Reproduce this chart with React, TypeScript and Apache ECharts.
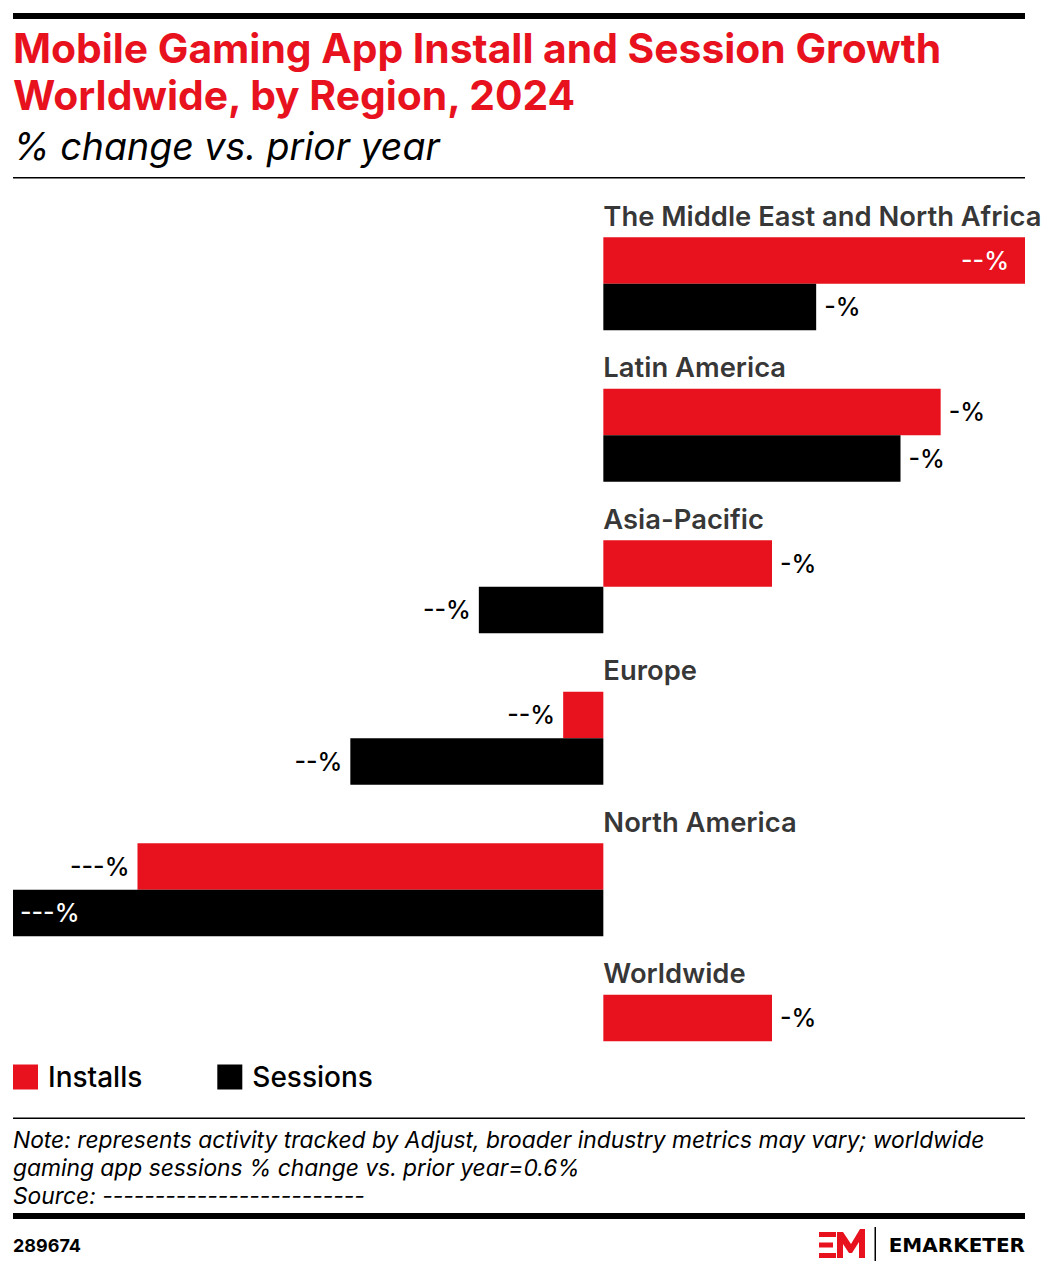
import React, { useEffect, useRef } from "react";
import * as echarts from "echarts";

const categories = [
  "The Middle East and North Africa",
  "Latin America",
  "Asia-Pacific",
  "Europe",
  "North America",
  "Worldwide",
];
const installs = [10.5, 8.4, 4.2, -1.0, -11.6, 4.2];
const sessions: (number | null)[] = [5.3, 7.4, -3.1, -6.3, -14.7, null];
const installLabels = ["--%", "-%", "-%", "--%", "---%", "-%"];
const sessionLabels = ["-%", "-%", "--%", "--%", "---%", ""];
const seriesNames = ["Installs", "Sessions"];

const RED = "#e8121e";
const FONT = "Inter, 'Noto Sans', sans-serif";

const allVals = [...installs, ...(sessions.filter((v) => v !== null) as number[])];
const vMax = Math.max(...allVals);
const vMin = Math.min(...allVals);

function barData(values: (number | null)[], labels: string[]) {
  return values.map((v, i) => {
    if (v === null) return { value: null };
    let pos = v >= 0 ? "right" : "left";
    let color = "#000";
    let distance = 8;
    if (v === vMax) {
      pos = "insideRight";
      color = "#fff";
      distance = 16;
    } else if (v === vMin) {
      pos = "insideLeft";
      color = "#fff";
      distance = 7;
    }
    return {
      value: v,
      label: {
        show: true,
        position: pos,
        distance,
        color,
        formatter: labels[i],
        fontFamily: FONT,
        fontSize: 25,
        fontWeight: 500,
      },
    };
  });
}

export default function App() {
  const ref = useRef<HTMLDivElement>(null);
  useEffect(() => {
    if (!ref.current) return;
    const chart = echarts.init(ref.current, null, { renderer: "svg" });
    const emPoly = [
      [837, 1258], [837, 1232], [843, 1232], [851, 1244], [860, 1229], [865, 1229],
      [865, 1258], [859, 1258], [859, 1242], [852, 1253], [849, 1253], [843, 1244], [843, 1258],
    ];
    chart.setOption({
      animation: false,
      textStyle: { fontFamily: FONT },
      grid: { left: 13, right: 28, top: 208, height: 909, containLabel: false },
      xAxis: {
        type: "value",
        min: vMin,
        max: vMax,
        axisLine: { show: false },
        axisTick: { show: false },
        axisLabel: { show: false },
        splitLine: { show: false },
      },
      yAxis: {
        type: "category",
        data: categories,
        inverse: true,
        axisLine: { show: false },
        axisTick: { show: false },
        axisLabel: { show: false },
        splitLine: { show: false },
      },
      legend: {
        data: seriesNames,
        left: 13,
        top: 1063,
        itemWidth: 25,
        itemHeight: 25,
        itemGap: 75,
        icon: "rect",
        padding: 0,
        textStyle: { fontFamily: FONT, fontSize: 28, fontWeight: 500, color: "#000", padding: [0, 0, 0, 5] },
      },
      series: [
        {
          name: seriesNames[0],
          type: "bar",
          barWidth: 46.5,
          barGap: "0%",
          itemStyle: { color: RED },
          data: barData(installs, installLabels),
        },
        {
          name: seriesNames[1],
          type: "bar",
          barWidth: 46.5,
          barGap: "0%",
          itemStyle: { color: "#000" },
          data: barData(sessions, sessionLabels),
        },
        {
          name: "cat",
          type: "scatter",
          symbolSize: 0,
          silent: true,
          data: categories.map((c) => [0, c]),
          label: {
            show: true,
            position: "right",
            distance: 0,
            offset: [0, -68],
            formatter: (p: any) => categories[p.dataIndex],
            fontFamily: FONT,
            fontSize: 27.4,
            fontWeight: 600,
            color: "#000",
          },
        },
      ],
      graphic: [
        { type: "rect", shape: { x: 13, y: 13, width: 1012, height: 6 }, style: { fill: "#000" } },
        {
          type: "text",
          style: { x: 13, y: 48, text: "Mobile Gaming App Install and Session Growth", fill: RED, font: `bold 40.8px ${FONT}`, verticalAlign: "middle" },
        },
        {
          type: "text",
          style: { x: 13, y: 95, text: "Worldwide, by Region, 2024", fill: RED, font: `bold 40.8px ${FONT}`, verticalAlign: "middle" },
        },
        {
          type: "text",
          style: { x: 13, y: 146, text: "% change vs. prior year", fill: "#000", font: `italic 400 37.5px ${FONT}`, verticalAlign: "middle" },
        },
        { type: "rect", shape: { x: 13, y: 177, width: 1012, height: 1.5 }, style: { fill: "#000" } },
        { type: "rect", shape: { x: 13, y: 1117.5, width: 1012, height: 1.5 }, style: { fill: "#000" } },
        {
          type: "text",
          style: { x: 13, y: 1139, text: "Note: represents activity tracked by Adjust, broader industry metrics may vary; worldwide", fill: "#000", font: `italic 400 22.8px ${FONT}`, verticalAlign: "middle" },
        },
        {
          type: "text",
          style: { x: 13, y: 1167, text: "gaming app sessions % change vs. prior year=0.6%", fill: "#000", font: `italic 400 22.8px ${FONT}`, verticalAlign: "middle" },
        },
        {
          type: "text",
          style: { x: 13, y: 1195, text: "Source: -------------------------", fill: "#000", font: `italic 400 22.8px ${FONT}`, verticalAlign: "middle" },
        },
        { type: "rect", shape: { x: 13, y: 1213, width: 1012, height: 6 }, style: { fill: "#000" } },
        {
          type: "text",
          style: { x: 13, y: 1245, text: "289674", fill: "#000", font: `bold 18px ${FONT}`, verticalAlign: "middle" },
        },
        { type: "rect", shape: { x: 819, y: 1232, width: 17, height: 5 }, style: { fill: RED } },
        { type: "rect", shape: { x: 819, y: 1242.5, width: 14, height: 5 }, style: { fill: RED } },
        { type: "rect", shape: { x: 819, y: 1253, width: 17, height: 5 }, style: { fill: RED } },
        { type: "polygon", shape: { points: emPoly }, style: { fill: RED } },
        { type: "rect", shape: { x: 874.5, y: 1227, width: 1.5, height: 34 }, style: { fill: "#000" } },
        {
          type: "text",
          style: { x: 1025, y: 1245, text: "EMARKETER", fill: "#000", font: `bold 20px 'DejaVu Sans', sans-serif`, align: "right", verticalAlign: "middle" },
        },
      ],
    });
    return () => chart.dispose();
  }, []);
  return <div ref={ref} style={{ width: 1053, height: 1274, position: "absolute", left: 0, top: 0 }} />;
}
